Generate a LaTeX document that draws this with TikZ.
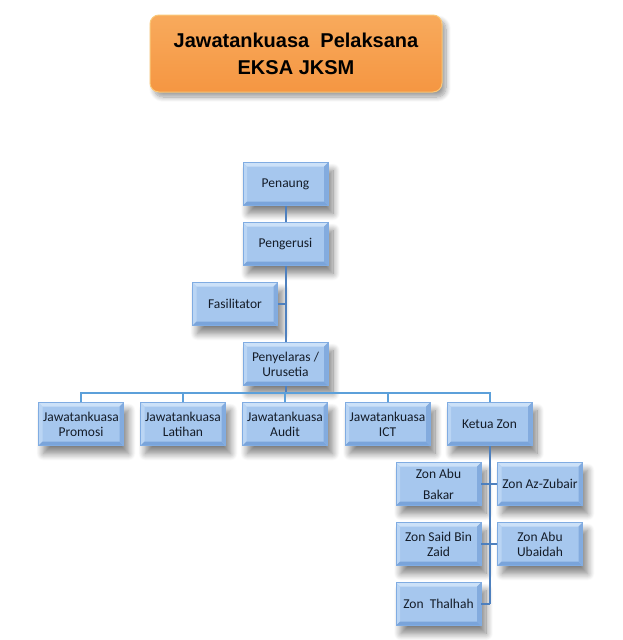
\documentclass[tikz,border=0pt]{standalone}
\usepackage{fontspec}
\setmainfont{Carlito}
\newfontfamily\titlefont{Liberation Sans}
\usetikzlibrary{calc}
\usetikzlibrary{shadows.blur}

\definecolor{boxfill}{RGB}{166,199,238}
\definecolor{boxedge}{RGB}{128,172,226}
\definecolor{bevlight}{RGB}{204,225,248}
\definecolor{bevside}{RGB}{186,213,244}
\definecolor{bevdark}{RGB}{122,164,218}
\definecolor{boxtext}{RGB}{20,28,40}
\definecolor{linkblue}{RGB}{78,128,190}
\definecolor{busblue}{RGB}{92,160,218}
\definecolor{orangetop}{RGB}{248,170,92}
\definecolor{orangebot}{RGB}{245,150,66}
\definecolor{orangeedge}{RGB}{250,200,120}

\tikzset{
	unitbox/.style={draw=boxedge, line width=0.8pt, fill=boxfill,
		minimum width=85pt, minimum height=43pt, inner sep=1pt,
		align=center, text=boxtext, font=\fontsize{13.5}{15}\selectfont,
		blur shadow={shadow xshift=5pt, shadow yshift=-8pt,
			shadow blur steps=12, shadow blur radius=7pt, shadow opacity=50},
		path picture={
			\path (path picture bounding box.north west) coordinate (bnw)
				(path picture bounding box.south east) coordinate (bse)
				(bnw -| bse) coordinate (bne)
				(bnw |- bse) coordinate (bsw);
			\fill[bevlight] (bnw) -- (bne) -- ([shift={(-4pt,-4pt)}]bne) -- ([shift={(4pt,-4pt)}]bnw) -- cycle; %top
			\fill[bevside] (bnw) -- (bsw) -- ([shift={(4pt,4pt)}]bsw) -- ([shift={(4pt,-4pt)}]bnw) -- cycle; %left
			\fill[bevdark] (bsw) -- (bse) -- ([shift={(-4pt,4pt)}]bse) -- ([shift={(4pt,4pt)}]bsw) -- cycle; %bottom
			\fill[bevdark!80!boxfill] (bne) -- (bse) -- ([shift={(-4pt,4pt)}]bse) -- ([shift={(-4pt,-4pt)}]bne) -- cycle; %right
		}},
	titlebox/.style={draw=orangeedge, line width=1pt, rounded corners=9pt,
		top color=orangetop, bottom color=orangebot,
		minimum width=292pt, minimum height=77pt, align=center,
		font=\titlefont\bfseries\fontsize{20}{27}\selectfont,
		blur shadow={shadow xshift=4pt, shadow yshift=-5pt,
			shadow blur steps=10, shadow blur radius=5pt, shadow opacity=40}},
	link/.style={draw=linkblue, line width=2pt},
	buslink/.style={draw=busblue, line width=2pt}
}

\begin{document}
\begin{tikzpicture}[x=1pt,y=-1pt]

\newcommand{\unitBox}[4]{%name,x,y,text
	\node[unitbox] (#1) at (#2,#3) {#4};
}

\useasboundingbox (0,0) rectangle (622,640);

\node[titlebox] (title) at (296,53.5) {Jawatankuasa\ \ Pelaksana\\EKSA JKSM};

\coordinate (bus) at (285.5,393);
\coordinate (trunk) at (489.5,604);

\unitBox{pen}{285.5}{184}{Penaung}
\unitBox{peng}{285.5}{244}{Pengerusi}
\unitBox{fas}{235}{304}{Fasilitator}
\unitBox{pny}{285.5}{364}{Penyelaras /\\Urusetia}

\unitBox{prom}{81}{424}{Jawatankuasa\\Promosi}
\unitBox{lat}{183}{424}{Jawatankuasa\\Latihan}
\unitBox{aud}{285}{424}{Jawatankuasa\\Audit}
\unitBox{ict}{387.5}{424}{Jawatankuasa\\ICT}
\unitBox{ketua}{489.5}{424}{Ketua Zon}

\unitBox{zab}{438.5}{484}{Zon Abu\\[6pt]Bakar}
\unitBox{zaz}{540}{484}{Zon Az-Zubair}
\unitBox{zsb}{438.5}{544}{Zon Said Bin\\Zaid}
\unitBox{zau}{540}{544}{Zon Abu\\Ubaidah}
\unitBox{thal}{438.5}{604}{Zon\ \ Thalhah}

% connectors
\draw[link] (pen) -- (peng);
\draw[link] (peng) -- (pny);
\draw[link] (fas.east) -- (fas.east -| peng.south);
\draw[link] (pny.south) -- (bus);
\foreach \n in {prom,lat,aud,ict,ketua}
{
	\draw[buslink] (\n.north) |- (bus);
}
\draw[link] (ketua.south) -- (trunk);
\foreach \n in {zab,zsb,thal}
{
	\draw[link] (\n.east) -- (\n.east -| trunk);
}
\foreach \n in {zaz,zau}
{
	\draw[link] (\n.west) -- (\n.west -| trunk);
}
\end{tikzpicture}
\end{document}
